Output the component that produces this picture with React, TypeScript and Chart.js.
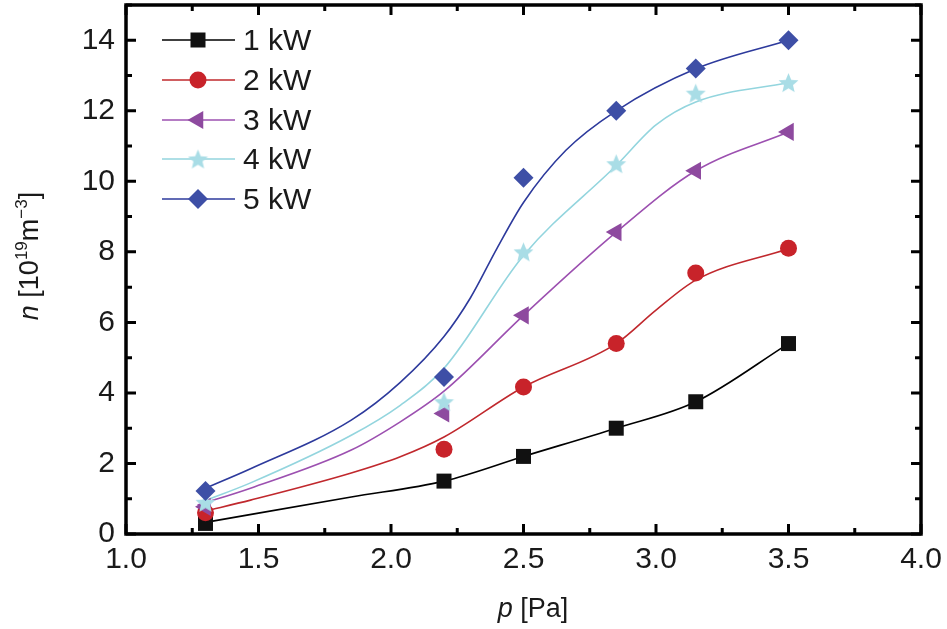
import React, { useEffect, useRef } from 'react';
import { Chart, registerables } from 'chart.js';

Chart.register(...registerables);

// ---- data ----
const seriesNames = ['1 kW', '2 kW', '3 kW', '4 kW', '5 kW'];
const pressure = [1.3, 2.2, 2.5, 2.85, 3.15, 3.5];
const n1kW = [0.3, 1.5, 2.2, 3.0, 3.75, 5.4];
const n2kW = [0.6, 2.4, 4.17, 5.4, 7.4, 8.1];
const n3kW = [0.77, 3.42, 6.2, 8.56, 10.3, 11.4];
const n4kW = [0.9, 3.75, 8.0, 10.5, 12.5, 12.8];
const n5kW = [1.22, 4.45, 10.1, 12.0, 13.2, 14.0];

// fitted curves as drawn in the reference
const fit1X = [1.3, 1.85, 2.2, 2.5, 2.85, 3.15, 3.5];
const fit1Y = [0.33, 1.05, 1.5, 2.2, 3.0, 3.75, 5.4];
const fit2X = [1.3, 1.47, 1.85, 2.035, 2.2, 2.5, 2.85, 3.0, 3.15, 3.5];
const fit2Y = [0.65, 0.96, 1.73, 2.19, 2.75, 4.17, 5.4, 6.35, 7.2, 8.09];
const fit3X = [1.27, 1.47, 1.85, 2.035, 2.2, 2.5, 2.85, 3.15, 3.5];
const fit3Y = [0.82, 1.3, 2.38, 3.18, 4.05, 6.2, 8.56, 10.3, 11.4];
const fit4X = [1.3, 1.47, 1.85, 2.035, 2.2, 2.5, 2.85, 3.0, 3.15, 3.5];
const fit4Y = [0.95, 1.45, 2.8, 3.65, 4.7, 7.9, 10.45, 11.6, 12.25, 12.8];
const fit5X = [1.3, 1.47, 1.85, 2.035, 2.2, 2.3, 2.4, 2.5, 2.66, 2.85, 3.15, 3.5];
const fit5Y = [1.3, 1.85, 3.23, 4.3, 5.6, 6.7, 8.1, 9.4, 10.88, 12.0, 13.19, 14.0];

const xTickValues = [1.0, 1.5, 2.0, 2.5, 3.0, 3.5, 4.0];
const yTickValues = [0, 2, 4, 6, 8, 10, 12, 14];

const lineColors = ['#000000', '#c0282d', '#9c50b0', '#93d5de', '#2d3a9c'];
const markerColors = ['#111111', '#c8232a', '#8e4a9f', '#a9dde6', '#3e4fa6'];

const FONT = '"Liberation Sans", Arial, sans-serif';

function makeStar(color: string, size: number) {
  const c = document.createElement('canvas');
  c.width = size;
  c.height = size;
  const ctx = c.getContext('2d')!;
  const cx = size / 2, cy = size / 2 + size * 0.05, R = size / 2, r = R * 0.45;
  ctx.beginPath();
  for (let i = 0; i < 10; i++) {
    const a = -Math.PI / 2 + (i * Math.PI) / 5;
    const rr = i % 2 === 0 ? R : r;
    ctx.lineTo(cx + rr * Math.cos(a), cy + rr * Math.sin(a));
  }
  ctx.closePath();
  ctx.fillStyle = color;
  ctx.fill();
  return c;
}

function drawMarker(ctx: CanvasRenderingContext2D, kind: number, x: number, y: number, color: string, star: HTMLCanvasElement) {
  ctx.save();
  ctx.fillStyle = color;
  ctx.beginPath();
  if (kind === 0) {
    ctx.rect(x - 7.5, y - 7.5, 15, 15);
    ctx.fill();
  } else if (kind === 1) {
    ctx.arc(x, y, 8.5, 0, Math.PI * 2);
    ctx.fill();
  } else if (kind === 2) {
    const r = 10.5;
    for (let i = 0; i < 3; i++) {
      const a = Math.PI + (i * 2 * Math.PI) / 3;
      ctx.lineTo(x + r * Math.cos(a), y + r * Math.sin(a));
    }
    ctx.closePath();
    ctx.fill();
  } else if (kind === 3) {
    ctx.drawImage(star, x - star.width / 2, y - star.height / 2);
  } else {
    ctx.moveTo(x, y - 10);
    ctx.lineTo(x + 10, y);
    ctx.lineTo(x, y + 10);
    ctx.lineTo(x - 10, y);
    ctx.closePath();
    ctx.fill();
  }
  ctx.restore();
}

export default function App() {
  const ref = useRef<HTMLCanvasElement>(null);

  useEffect(() => {
    if (!ref.current) return;
    const star = makeStar(markerColors[3], 21);
    const pts = (xs: number[], ys: number[]) => xs.map((x, i) => ({ x, y: ys[i] }));
    const values = [n1kW, n2kW, n3kW, n4kW, n5kW];
    const fits: [number[], number[]][] = [
      [fit1X, fit1Y], [fit2X, fit2Y], [fit3X, fit3Y], [fit4X, fit4Y], [fit5X, fit5Y],
    ];
    const styles: any[] = ['rect', 'circle', 'triangle', star, 'rectRot'];
    const radii = [10.6, 8.5, 10.5, 10, 10];
    const rotations = [0, 0, -90, 0, 0];

    const datasets: any[] = [];
    fits.forEach(([fx, fy], i) => {
      datasets.push({
        label: seriesNames[i] + ' fit',
        data: pts(fx, fy),
        showLine: true,
        borderColor: lineColors[i],
        borderWidth: 1.6,
        pointRadius: 0,
        cubicInterpolationMode: 'monotone',
        order: 20 - i,
      });
    });
    values.forEach((v, i) => {
      datasets.push({
        label: seriesNames[i],
        data: pts(pressure, v),
        showLine: false,
        pointStyle: styles[i],
        pointRadius: radii[i],
        pointRotation: rotations[i],
        pointBackgroundColor: markerColors[i],
        pointBorderColor: markerColors[i],
        pointBorderWidth: 0,
        order: 10 - i,
      });
    });

    const framePlugin = {
      id: 'frame',
      afterDraw(chart: any) {
        const ctx: CanvasRenderingContext2D = chart.ctx;
        const { left, right, top, bottom } = chart.chartArea;
        const xs = chart.scales.x, ys = chart.scales.y;
        ctx.save();
        ctx.strokeStyle = '#000';
        ctx.lineCap = 'butt';
        ctx.lineWidth = 3;
        for (let v = 1.0; v <= 4.0001; v += 0.25) {
          const major = Math.abs(v * 2 - Math.round(v * 2)) < 1e-6;
          const len = major ? 10 : 6;
          const px = xs.getPixelForValue(v);
          ctx.beginPath();
          ctx.moveTo(px, bottom); ctx.lineTo(px, bottom - len);
          ctx.moveTo(px, top); ctx.lineTo(px, top + len);
          ctx.stroke();
        }
        for (let v = 0; v <= 15; v += 1) {
          const major = v % 2 === 0;
          const len = major ? 10 : 6;
          const py = ys.getPixelForValue(v);
          ctx.beginPath();
          ctx.moveTo(left, py); ctx.lineTo(left + len, py);
          ctx.moveTo(right, py); ctx.lineTo(right - len, py);
          ctx.stroke();
        }
        ctx.lineWidth = 3.5;
        ctx.strokeRect(left, top, right - left, bottom - top);

        // legend
        const rowY = [40, 80, 120, 159, 199];
        for (let i = 0; i < 5; i++) {
          const y = rowY[i];
          ctx.strokeStyle = lineColors[i];
          ctx.lineWidth = 1.6;
          ctx.beginPath();
          ctx.moveTo(162, y); ctx.lineTo(235, y);
          ctx.stroke();
          drawMarker(ctx, i, 198, y, markerColors[i], star);
          ctx.fillStyle = '#1a1a1a';
          ctx.font = `30px ${FONT}`;
          ctx.textBaseline = 'middle';
          ctx.textAlign = 'left';
          ctx.fillText(seriesNames[i], 243, y + 2);
        }

        // x title
        ctx.fillStyle = '#1a1a1a';
        ctx.textBaseline = 'alphabetic';
        const xsegs = [
          { t: 'p', f: `italic 27px ${FONT}` },
          { t: ' [Pa]', f: `27px ${FONT}` },
        ];
        let w = 0;
        xsegs.forEach(s => { ctx.font = s.f; w += ctx.measureText(s.t).width; });
        let cx = 533 - w / 2;
        xsegs.forEach(s => { ctx.font = s.f; ctx.fillText(s.t, cx, 617); cx += ctx.measureText(s.t).width; });

        // y title
        const ysegs = [
          { t: 'n', f: `italic 27px ${FONT}`, dy: 0 },
          { t: ' [10', f: `27px ${FONT}`, dy: 0 },
          { t: '19', f: `17px ${FONT}`, dy: -11 },
          { t: 'm', f: `27px ${FONT}`, dy: 0 },
          { t: '\u22123', f: `17px ${FONT}`, dy: -11 },
          { t: ']', f: `27px ${FONT}`, dy: 0 },
        ];
        ctx.save();
        ctx.translate(38, 256);
        ctx.rotate(-Math.PI / 2);
        let tw = 0;
        ysegs.forEach(s => { ctx.font = s.f; tw += ctx.measureText(s.t).width; });
        let tx = -tw / 2;
        ysegs.forEach(s => { ctx.font = s.f; ctx.fillText(s.t, tx, s.dy); tx += ctx.measureText(s.t).width; });
        ctx.restore();
        ctx.restore();
      },
    };

    const chart = new Chart(ref.current, {
      type: 'line',
      data: { datasets },
      options: {
        animation: false,
        responsive: false,
        maintainAspectRatio: false,
        layout: { autoPadding: false, padding: { left: 0, right: 26, top: 5, bottom: 0 } },
        plugins: { legend: { display: false }, tooltip: { enabled: false } },
        scales: {
          x: {
            type: 'linear',
            min: 1,
            max: 4,
            afterBuildTicks: (s: any) => { s.ticks = xTickValues.map(v => ({ value: v })); },
            afterFit: (s: any) => { s.height = 95; s.paddingLeft = 0; s.paddingRight = 0; },
            ticks: {
              callback: (v: any) => Number(v).toFixed(1),
              font: { family: FONT, size: 30 },
              color: '#1a1a1a',
              padding: 8,
              maxRotation: 0,
              autoSkip: false,
            },
            grid: { display: false, drawTicks: false },
            border: { display: false },
          },
          y: {
            type: 'linear',
            min: 0,
            max: 15,
            afterBuildTicks: (s: any) => { s.ticks = yTickValues.map(v => ({ value: v })); },
            afterFit: (s: any) => { s.width = 126; s.paddingTop = 0; s.paddingBottom = 0; },
            ticks: {
              callback: (v: any) => String(v),
              font: { family: FONT, size: 30 },
              color: '#1a1a1a',
              padding: 11,
              autoSkip: false,
            },
            grid: { display: false, drawTicks: false },
            border: { display: false },
          },
        },
      },
      plugins: [framePlugin],
    });
    return () => chart.destroy();
  }, []);

  return (
    <div style={{ position: 'absolute', left: 0, top: 0, width: 947, height: 629, background: '#fff' }}>
      <canvas ref={ref} width={947} height={629} style={{ display: 'block', width: 947, height: 629 }} />
    </div>
  );
}
